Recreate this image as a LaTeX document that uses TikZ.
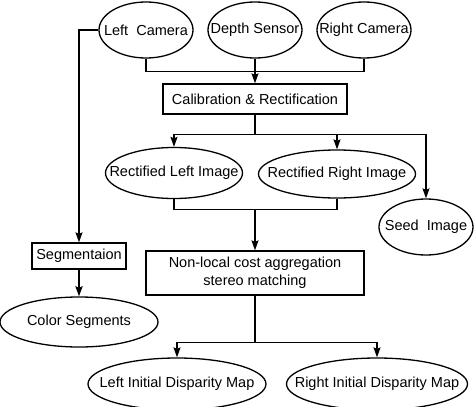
\documentclass[tikz,border=0pt]{standalone}
\usepackage{fontspec}
\setmainfont{Liberation Sans}
\usetikzlibrary{shapes,arrows.meta,positioning,calc}

\begin{document}
\begin{tikzpicture}[x=1pt, y=-1pt, node distance=109pt,
    font=\fontsize{14.5}{18}\selectfont,
    oval/.style={draw, ellipse, line width=1.3pt, inner sep=0pt,
        execute at begin node={\hbox to 0pt\bgroup\hss},
        execute at end node={\hss\egroup}},
    block/.style={draw, rectangle, line width=1.3pt, inner sep=0pt, align=center},
    link/.style={line width=1.1pt},
    arr/.style={link, -{Stealth[length=10pt, width=7pt, inset=1.5pt]}}]
    \useasboundingbox (0,0) rectangle (474,407);

    \node (lcam) [oval, minimum width=94pt, minimum height=56pt] at (146,30) {Left\ \ Camera};
    \node (depth) [oval, right of=lcam, minimum width=94pt, minimum height=56pt] {Depth Sensor};
    \node (rcam) [oval, right of=depth, minimum width=94pt, minimum height=56pt] {Right Camera};
    \node (calib) [block, minimum width=184pt, minimum height=30pt] at (255,99) {Calibration \& Rectification};
    \node (rleft) [oval, minimum width=137pt, minimum height=51pt] at (174,173) {Rectified Left Image};
    \node (rright) [oval, minimum width=157pt, minimum height=48pt] at (337,174) {Rectified Right Image};
    \node (seed) [oval, minimum width=94pt, minimum height=56pt] at (426,227) {Seed\ \ Image};
    \node (nonlocal) [block, minimum width=218pt, minimum height=44pt] at (255,273) {Non-local cost aggregation\\stereo matching};
    \node (seg) [block, minimum width=94pt, minimum height=26pt] at (79,256) {Segmentaion};
    \node (colseg) [oval, minimum width=158pt, minimum height=50pt] at (79,322) {Color Segments};
    \node (ldisp) [oval, minimum width=178pt, minimum height=52pt] at (177,384) {Left Initial Disparity Map};
    \node (rdisp) [oval, minimum width=181pt, minimum height=52pt] at (377,384) {Right Initial Disparity Map};

    % cameras into calibration
    \coordinate (camjoin) at ($(depth.south)+(0,13)$);
    \draw [link] (lcam.south) |- (camjoin) -| (rcam.south);
    \draw [arr] (depth.south) -- (calib.north);

    % calibration outputs
    \coordinate (calsplit) at ($(calib.south)+(0,20)$);
    \draw [link] (calib.south) -- (calsplit);
    \draw [arr] (calsplit) -| (rleft.north);
    \draw [arr] (calsplit) -| (rright.north);
    \draw [arr] (calsplit) -| (seed.north);

    % stereo matching
    \coordinate (rectjoin) at ($(nonlocal.north)+(0,-41)$);
    \draw [link] (rleft.south) |- (rectjoin) -| (rright.south);
    \draw [arr] (rectjoin) -- (nonlocal.north);

    % segmentation branch
    \draw [arr] (lcam.west) -| (seg.north);
    \draw [arr, line width=2.2pt] (seg) -- (colseg);

    % disparity maps
    \coordinate (mapsplit) at ($(nonlocal.south)+(0,47)$);
    \draw [link] (nonlocal.south) -- (mapsplit);
    \draw [arr] (mapsplit) -| (ldisp.north);
    \draw [arr] (mapsplit) -| (rdisp.north);
\end{tikzpicture}
\end{document}
